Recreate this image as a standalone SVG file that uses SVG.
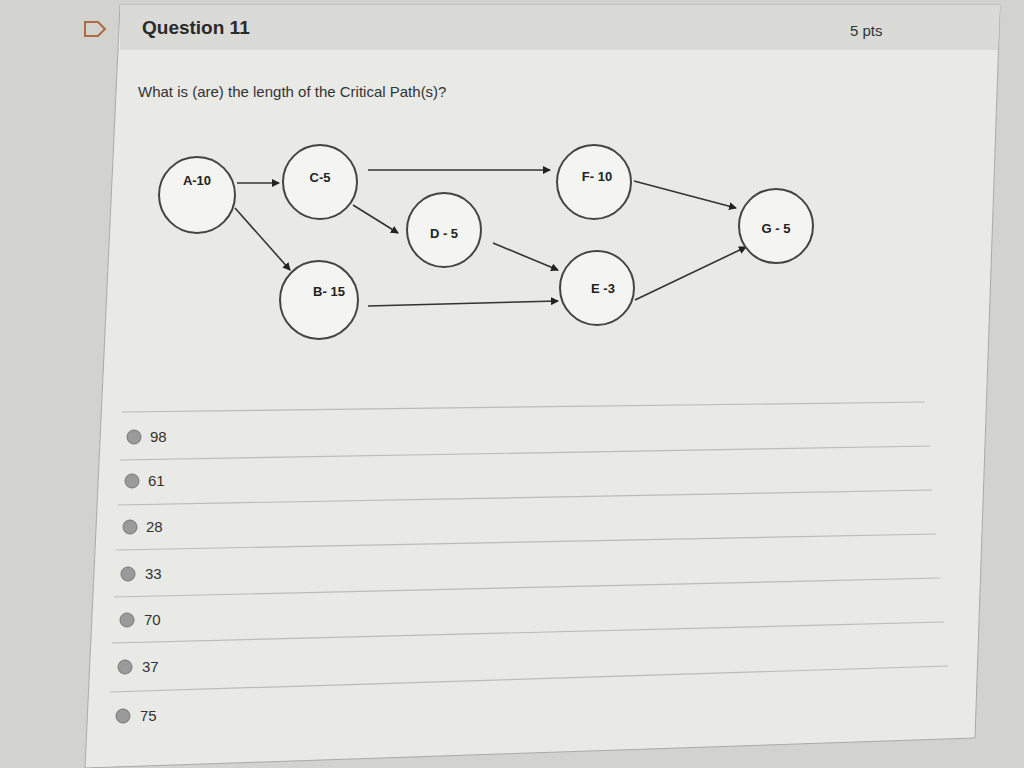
<svg xmlns="http://www.w3.org/2000/svg" width="1024" height="768" viewBox="0 0 1024 768">
<style>
.n{fill:#f4f4f2;stroke:#444;stroke-width:2}
.nt{font-family:"Liberation Sans",Arial,sans-serif;font-size:13px;font-weight:bold;fill:#222;text-anchor:middle}
.e{stroke:#333;stroke-width:1.6;fill:none;marker-end:url(#ah)}
.o{font-family:"Liberation Sans",Arial,sans-serif;font-size:15px;fill:#333}
.r{fill:#9a9a9a;stroke:#777}
.l{stroke:#bbb;stroke-width:1.2}
</style>
<defs><marker id="ah" markerWidth="8" markerHeight="8" refX="7" refY="4" orient="auto" markerUnits="userSpaceOnUse"><path d="M0,0L8,4L0,8z" fill="#222"/></marker></defs>
<rect width="1024" height="768" fill="#d2d2ce"/>
<path d="M120,5 L1000,5 L975,738 L85,768 Z" fill="#e9e9e6" stroke="#aaa"/>
<path d="M120,5 L1000,5 L998,50 L120,50 Z" fill="#dadad7"/>
<path d="M85,22 L98,22 L105,29 L98,36 L85,36 Z" fill="none" stroke="#b06a40" stroke-width="2"/>
<text x="142" y="34" font-family="Liberation Sans,Arial,sans-serif" font-size="19" font-weight="bold" fill="#2a2a2a">Question 11</text>
<text x="850" y="36" font-family="Liberation Sans,Arial,sans-serif" font-size="15" fill="#333">5 pts</text>
<text x="138" y="97" font-family="Liberation Sans,Arial,sans-serif" font-size="15" fill="#333">What is (are) the length of the Critical Path(s)?</text>
<g id="edges">
<line class="e" x1="237" y1="183" x2="279" y2="183"/>
<line class="e" x1="368" y1="170" x2="550" y2="170"/>
<line class="e" x1="353" y1="205" x2="398" y2="233"/>
<line class="e" x1="235" y1="208" x2="290" y2="270"/>
<line class="e" x1="493" y1="243" x2="558" y2="270"/>
<line class="e" x1="368" y1="306" x2="558" y2="301"/>
<line class="e" x1="634" y1="181" x2="736" y2="208"/>
<line class="e" x1="635" y1="300" x2="746" y2="247"/>
</g>
<g id="A"><circle class="n" cx="197" cy="195" r="38"/><text class="nt" x="197" y="185">A-10</text></g>
<g id="C"><circle class="n" cx="320" cy="182" r="37"/><text class="nt" x="320" y="182">C-5</text></g>
<g id="D"><circle class="n" cx="444" cy="230" r="37"/><text class="nt" x="444" y="238">D - 5</text></g>
<g id="F"><circle class="n" cx="594" cy="182" r="37"/><text class="nt" x="597" y="181">F- 10</text></g>
<g id="G"><circle class="n" cx="776" cy="226" r="37"/><text class="nt" x="776" y="233">G - 5</text></g>
<g id="E"><circle class="n" cx="597" cy="288" r="37"/><text class="nt" x="603" y="293">E -3</text></g>
<g id="B"><circle class="n" cx="319" cy="300" r="39"/><text class="nt" x="329" y="296">B- 15</text></g>
<line class="l" x1="122" y1="412" x2="925" y2="402"/>
<line class="l" x1="120" y1="460" x2="930" y2="446"/>
<line class="l" x1="118" y1="505" x2="932" y2="490"/>
<line class="l" x1="116" y1="550" x2="936" y2="534"/>
<line class="l" x1="114" y1="597" x2="940" y2="578"/>
<line class="l" x1="112" y1="643" x2="944" y2="622"/>
<line class="l" x1="110" y1="692" x2="948" y2="666"/>
<circle class="r" cx="134" cy="437" r="7"/><text class="o" x="150" y="442">98</text>
<circle class="r" cx="132" cy="481" r="7"/><text class="o" x="148" y="486">61</text>
<circle class="r" cx="130" cy="527" r="7"/><text class="o" x="146" y="532">28</text>
<circle class="r" cx="128" cy="574" r="7"/><text class="o" x="145" y="579">33</text>
<circle class="r" cx="127" cy="620" r="7"/><text class="o" x="144" y="625">70</text>
<circle class="r" cx="125" cy="667" r="7"/><text class="o" x="142" y="672">37</text>
<circle class="r" cx="123" cy="716" r="7"/><text class="o" x="140" y="721">75</text>
</svg>
